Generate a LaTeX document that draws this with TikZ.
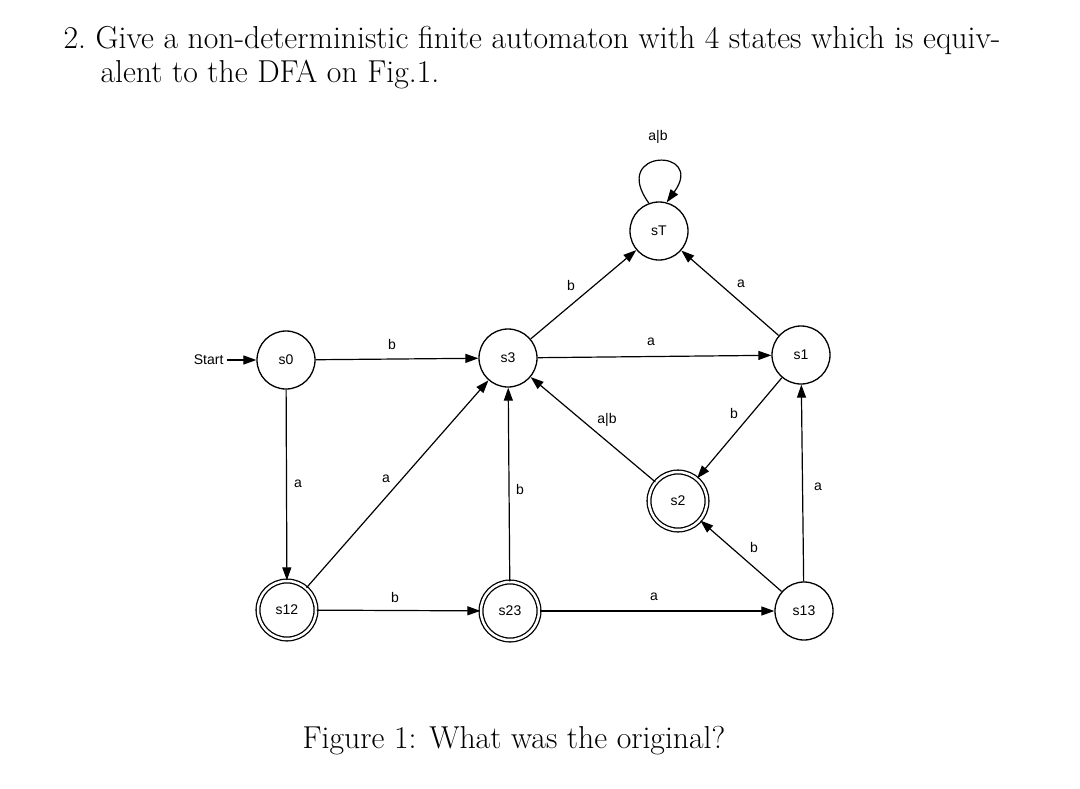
\documentclass[tikz,border=0pt]{standalone}
\usepackage{fontspec}
\newfontfamily\lab{Liberation Sans}
\usetikzlibrary{arrows.meta}
\begin{document}
\begin{tikzpicture}[x=1pt,y=-1pt,
 st/.style={circle,draw,line width=1.3pt,minimum size=58pt,inner sep=0pt,font=\lab\fontsize{14}{16}\selectfont},
 acc/.style={st,double,double distance=2.5pt},
 tr/.style={-{Triangle[length=13pt,width=9pt]},line width=1.2pt},
 lb/.style={font=\lab\fontsize{14}{16}\selectfont}]
\useasboundingbox (0,0) rectangle (1080,788);
\node[anchor=west,font=\fontsize{31.7}{38}\selectfont] (t1) at (60,40) {2.\ Give a non-deterministic finite automaton with 4 states which is equiv-};
\node[anchor=west,font=\fontsize{31.7}{38}\selectfont] (t2) at (97,75) {alent to the DFA on Fig.1.};
\node[font=\fontsize{31.7}{38}\selectfont] (cap) at (514,741) {Figure 1: What was the original?};
\node[st] (s0) at (286,360) {s0};
\node[st] (s3) at (508,358) {s3};
\node[st] (sT) at (659,231) {sT};
\node[st] (s1) at (801,355) {s1};
\node[acc] (s2) at (678,501) {s2};
\node[acc] (s12) at (287,610) {s12};
\node[acc] (s23) at (510,611) {s23};
\node[st] (s13) at (804,611) {s13};
\node[lb,anchor=east] (start) at (227,360) {Start};
\draw[tr] (start) -- (s0);
\draw[tr] (sT.110) .. controls +(-40,-55) and +(40,-55) .. (sT.75);
\node[lb] at (658,137) {a|b};
\draw[tr] (s3) -- (sT); \node[lb] at (571,285) {b};
\draw[tr] (s1) -- (sT); \node[lb] at (741,284) {a};
\draw[tr] (s0) -- (s3); \node[lb] at (392,344) {b};
\draw[tr] (s3) -- (s1); \node[lb] at (651,342) {a};
\draw[tr] (s2) -- (s3); \node[lb] at (607,420) {a|b};
\draw[tr] (s1) -- (s2); \node[lb] at (734,413) {b};
\draw[tr] (s0) -- (s12); \node[lb] at (298,484) {a};
\draw[tr] (s12) -- (s3); \node[lb] at (386,479) {a};
\draw[tr] (s23) -- (s3); \node[lb] at (520,489) {b};
\draw[tr] (s13) -- (s2); \node[lb] at (754,547) {b};
\draw[tr] (s13) -- (s1); \node[lb] at (818,487) {a};
\draw[tr] (s12) -- (s23); \node[lb] at (395,597) {b};
\draw[tr] (s23) -- (s13); \node[lb] at (654,597) {a};
\end{tikzpicture}
\end{document}
